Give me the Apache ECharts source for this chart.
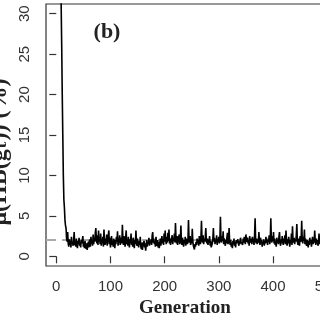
<!DOCTYPE html>
<html>
<head>
<meta charset="utf-8">
<script src="https://cdn.jsdelivr.net/npm/echarts@6/dist/echarts.min.js"></script>
<style>
  html, body { margin: 0; padding: 0; background: #fff; }
  #main { width: 320px; height: 320px; }
</style>
</head>
<body>
<div id="main"></div>
<script>
// generation ticks / value ticks
const xTicks = [0, 100, 200, 300, 400, 500]
const yTicks = [0, 5, 10, 15, 20, 25, 30]
const refLevel = 2 // grey dashed reference line

// mu per generation, gen 1..500
const muValues = [
  95, 80, 70, 62, 55, 48, 42, 36, 31, 26, 20, 15, 10, 7, 6, 4.5, 3.8, 3.5, 2.2, 1.8,
  3.0, 1.6, 1.2, 2.1, 1.4, 1.9, 1.1, 2.4, 1.5, 1.8, 1.3, 2.0, 3.0, 1.4, 1.7, 1.2, 2.2, 1.6, 1.0, 1.9,
  1.5, 2.3, 1.3, 1.8, 1.1, 2.0, 1.6, 1.4, 2.5, 1.2, 1.7, 1.0, 1.9, 1.4, 0.9, 1.6, 0.8, 1.3, 1.8, 1.1,
  2.1, 1.5, 1.2, 2.4, 1.6, 1.9, 1.3, 2.7, 1.5, 2.2, 1.8, 2.9, 3.5, 2.0, 1.6, 2.6, 1.4, 3.2, 1.8, 2.3,
  1.5, 2.8, 1.3, 2.0, 1.7, 2.4, 1.2, 3.3, 1.9, 1.4, 2.2, 1.6, 2.7, 1.3, 2.0, 1.8, 3.2, 1.5, 2.3, 1.1,
  1.7, 2.5, 1.4, 1.9, 1.2, 2.2, 1.6, 1.0, 2.0, 1.5, 2.4, 1.8, 3.1, 1.3, 2.1, 1.7, 2.6, 1.4, 1.9, 2.3,
  1.6, 3.9, 2.0, 1.4, 2.5, 1.8, 1.2, 2.2, 3.2, 1.5, 2.0, 1.3, 2.4, 1.7, 1.1, 2.1, 1.6, 2.8, 1.4, 1.9,
  1.2, 2.3, 1.7, 1.0, 2.0, 1.5, 3.2, 1.8, 1.3, 2.2, 1.6, 1.1, 1.9, 1.4, 2.4, 1.2, 0.9, 1.7, 0.8, 1.5,
  1.3, 1.9, 1.1, 1.6, 0.7, 1.4, 2.0, 1.2, 1.8, 1.5, 2.3, 1.3, 1.9, 1.6, 2.1, 1.4, 2.6, 3.0, 1.7, 2.2,
  1.5, 1.9, 1.2, 2.4, 1.6, 1.3, 2.0, 1.1, 1.8, 1.0, 1.5, 2.2, 1.3, 1.9, 2.5, 1.6, 2.1, 1.4, 2.8, 1.8,
  3.2, 2.0, 1.5, 2.4, 1.7, 2.9, 1.9, 3.3, 1.6, 2.2, 1.4, 2.0, 1.8, 2.6, 1.5, 2.3, 1.9, 2.8, 1.7, 4.1,
  2.2, 1.6, 2.5, 1.4, 2.0, 1.8, 2.7, 1.5, 2.1, 3.8, 1.9, 1.4, 2.3, 1.7, 1.2, 2.0, 1.6, 2.4, 1.3, 1.9,
  2.2, 1.5, 1.8, 4.5, 2.1, 1.7, 2.5, 1.4, 2.0, 1.6, 3.4, 1.9, 1.3, 1.1, 0.85, 1.5, 1.2, 1.8, 1.4, 2.2,
  1.6, 2.0, 1.3, 2.5, 1.8, 1.5, 2.3, 4.4, 2.0, 1.7, 2.6, 1.5, 2.1, 1.8, 2.4, 3.5, 1.9, 1.6, 2.2, 1.4,
  2.0, 1.7, 2.5, 1.3, 1.9, 1.1, 0.9, 1.6, 2.2, 3.5, 1.8, 2.3, 1.5, 2.0, 1.7, 2.6, 1.4, 2.1, 1.8, 2.4,
  1.6, 2.2, 4.9, 2.0, 1.7, 2.5, 1.9, 3.1, 1.5, 2.2, 1.8, 1.3, 2.0, 1.6, 2.4, 2.9, 1.5, 2.1, 3.5, 1.8,
  1.4, 2.0, 1.2, 1.7, 1.0, 1.9, 1.5, 2.2, 1.3, 1.8, 1.1, 2.0, 1.6, 1.4, 2.1, 1.7, 1.3, 1.9, 1.5, 2.3,
  1.8, 1.6, 2.0, 1.4, 2.2, 1.7, 2.4, 1.9, 1.5, 2.7, 2.1, 1.8, 2.3, 1.6, 2.0, 1.3, 2.5, 1.7, 2.2, 1.9,
  1.5, 2.4, 1.8, 2.1, 1.4, 2.6, 4.7, 1.9, 1.6, 2.2, 1.5, 2.0, 1.7, 3.0, 1.8, 1.4, 2.3, 1.6, 2.0, 1.2,
  1.8, 1.5, 2.1, 1.3, 1.9, 1.6, 2.4, 1.7, 2.0, 1.4, 2.2, 1.8, 2.6, 1.5, 2.1, 4.7, 2.0, 1.7, 2.5, 1.9,
  3.0, 1.6, 2.2, 1.4, 1.9, 1.2, 2.3, 1.7, 2.0, 1.5, 2.4, 3.0, 1.8, 1.3, 2.1, 1.6, 2.5, 1.9, 1.4, 2.2,
  1.7, 2.6, 1.5, 3.2, 1.9, 1.3, 2.1, 1.6, 2.4, 1.8, 1.2, 2.0, 1.6, 2.8, 1.4, 3.7, 2.0, 1.7, 2.3, 1.5,
  2.1, 1.8, 2.6, 4.0, 1.9, 1.4, 2.2, 1.7, 1.3, 2.5, 1.8, 2.1, 4.4, 2.0, 1.6, 2.4, 1.9, 3.3, 1.5, 2.2,
  1.7, 1.3, 2.0, 1.5, 1.1, 1.9, 1.4, 2.3, 1.6, 2.0, 1.2, 1.8, 2.4, 1.5, 2.1, 1.7, 3.2, 1.9, 1.4, 2.2,
  1.6, 2.0, 1.3, 1.8, 2.8, 1.5, 2.1, 1.7, 2.4, 1.4, 1.9, 1.6, 2.2, 1.3, 2.0, 1.7, 2.5, 1.5, 1.8, 2.1
]

// [generation, value] pairs
const seriesData = muValues.map((v, i) => [i + 1, v])

const chart = echarts.init(document.getElementById('main'), null, { renderer: 'canvas' })

const tickFont = {
  fontFamily: 'Liberation Sans, Arial, sans-serif',
  fontSize: 15,
  color: '#333',
}

chart.setOption({
  animation: false,
  backgroundColor: '#fff',
  grid: {
    left: 46,
    top: 4,
    width: 292,
    height: 262,
    show: true,
    borderColor: '#333',
    borderWidth: 1.2,
    containLabel: false,
    outerBoundsMode: 'none',
  },
  xAxis: {
    type: 'value',
    min: -19,
    max: 520,
    axisLine: { show: false },
    splitLine: { show: false },
    axisTick: { show: true, length: 7, customValues: xTicks, lineStyle: { color: '#333', width: 1.2 } },
    axisLabel: { customValues: xTicks, margin: 13, ...tickFont },
  },
  yAxis: {
    type: 'value',
    min: -1.2,
    max: 31.2,
    axisLine: { show: false },
    splitLine: { show: false },
    axisTick: { show: true, length: 7, customValues: yTicks, lineStyle: { color: '#333', width: 1.2 } },
    axisLabel: { customValues: yTicks, rotate: 90, margin: 14, ...tickFont },
  },
  series: [{
    type: 'line',
    data: seriesData,
    symbol: 'none',
    clip: true,
    lineStyle: { color: '#000', width: 1.6 },
    markLine: {
      silent: true,
      symbol: 'none',
      label: { show: false },
      lineStyle: { color: '#aaa', type: [10, 6], width: 2 },
      data: [{ yAxis: refLevel }],
      z: 1,
    },
  }],
  graphic: [
    {
      type: 'text',
      x: 107,
      y: 32,
      style: {
        text: '(b)',
        font: 'bold 22px "Liberation Serif", "Times New Roman", serif',
        fill: '#222',
        textAlign: 'center',
        textVerticalAlign: 'middle',
      },
    },
    {
      type: 'text',
      x: 185,
      y: 308,
      style: {
        text: 'Generation',
        font: 'bold 19px "Liberation Serif", "Times New Roman", serif',
        fill: '#222',
        textAlign: 'center',
        textVerticalAlign: 'middle',
      },
    },
    {
      type: 'text',
      x: 0,
      y: 152,
      rotation: Math.PI / 2,
      style: {
        text: 'μ(HB(gₜ)) (%)',
        font: 'bold 24px "Liberation Serif", "DejaVu Serif", serif',
        fill: '#222',
        textAlign: 'center',
        textVerticalAlign: 'middle',
      },
    },
  ],
})
</script>
</body>
</html>
